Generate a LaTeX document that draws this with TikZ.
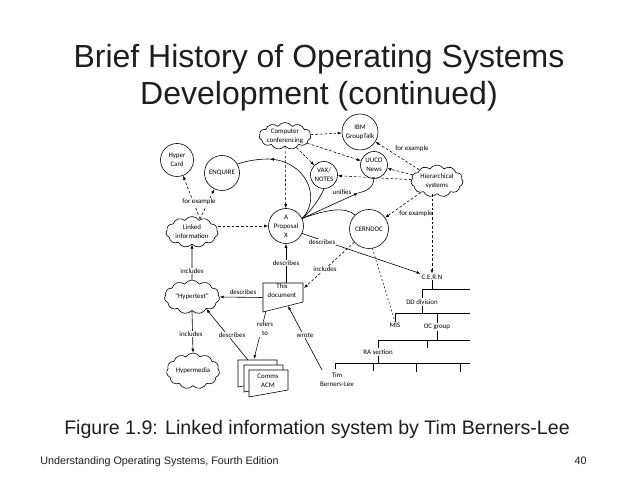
\documentclass[tikz,border=0pt]{standalone}
\usepackage{fontspec}
\setmainfont{Liberation Sans}
\newfontfamily\dfont{Carlito}
\usetikzlibrary{shapes.symbols,arrows.meta,decorations.markings,calc}
\newcommand\dsize{\dfont\fontsize{6.9}{8.8}\selectfont}
\definecolor{titlec}{HTML}{1E1E1E}
\begin{document}
\begin{tikzpicture}[x=1pt,y=-1pt,line width=0.6pt,
  dtxt/.style={font=\dsize, align=center, inner sep=0.8pt},
  onl/.style={dtxt, fill=white},
  circ/.style={circle, draw, line width=0.6pt, inner sep=0pt},
  cld/.style={cloud, cloud puffs=11, cloud puff arc=115, cloud ignores aspect, draw, line width=0.6pt, inner sep=0pt},
  dsh/.style={dash pattern=on 2.6pt off 2pt},
  dotl/.style={dash pattern=on 1.6pt off 2.4pt},
  tip/.style={-{Latex[length=4pt,width=3pt]}},
  midtip/.style={postaction={decorate}, decoration={markings, mark=at position 0.72 with {\arrow{Latex[length=4pt,width=3pt]}}}},
  docshape/.style={draw, fill=white, line width=0.6pt}
]
\fill[white] (0,0) rectangle (638,478);
\useasboundingbox (0,0) rectangle (638,478);

% ---------- title, caption, footer ----------
\node[anchor=base, font=\fontsize{32}{36}\selectfont, text=titlec] (t1) at (319,68) {Brief History of Operating Systems};
\node[anchor=base, font=\fontsize{32}{36}\selectfont, text=titlec] (t2) at (319,105) {Development (continued)};
\node[anchor=base, font=\fontsize{19.6}{22}\selectfont, text=titlec] (cap) at (317,435) {Figure 1.9: Linked information system by Tim Berners-Lee};
\node[anchor=base west, inner sep=0, font=\fontsize{10.8}{12}\selectfont, text=titlec] (foot) at (40,465) {Understanding Operating Systems, Fourth Edition};
\node[anchor=base east, inner sep=0, font=\fontsize{10.8}{12}\selectfont, text=titlec] (pg) at (587,465) {40};

% ---------- circles ----------
\node[circ, minimum size=33] (hyper) at (177,160) {};
\node[dtxt] (hypert) at (hyper) {Hyper\\Card};
\node[circ, minimum size=35] (enq) at (222,173) {};
\node[dtxt] (enqt) at (enq) {ENQUIRE};
\node[circ, minimum size=36] (ibm) at (360,132) {};
\node[dtxt] (ibmt) at (ibm) {IBM\\GroupTalk};
\node[circ, minimum size=27] (uuco) at (374,165) {};
\node[dtxt] (uucot) at (uuco) {UUCO\\News};
\node[circ, minimum size=27] (vax) at (324,175) {};
\node[dtxt] (vaxt) at (vax) {VAX/\\NOTES};
\node[circ, minimum size=35] (pa) at (286,226) {};
\node[dtxt] (pat) at (pa) {A\\Proposal\\X};
\node[circ, minimum size=39] (cdoc) at (369,229) {};
\node[dtxt] (cdoct) at (cdoc) {CERNDOC};

% ---------- clouds ----------
\node[cld, minimum width=52, minimum height=27] (cc) at (285,136) {};
\node[dtxt] (cct) at (cc) {Computer\\conferencing};
\node[cld, minimum width=52, minimum height=32] (hier) at (437,181) {};
\node[dtxt] (hiert) at (hier) {Hierarchical\\systems};
\node[cld, minimum width=52, minimum height=31] (lnk) at (192,232) {};
\node[dtxt] (lnkt) at (lnk) {Linked\\information};
\node[cld, minimum width=55, minimum height=34] (ht) at (192,297) {};
\node[dtxt] (htt) at (ht) {"Hypertext"};
\node[cld, minimum width=53, minimum height=36] (hm) at (193,371) {};
\node[dtxt] (hmt) at (hm) {Hypermedia};

% ---------- documents ----------
\node[minimum width=40, minimum height=29, inner sep=0] (doc) at (283,297.5) {};
\draw[docshape] (263,283) -- (303,283) -- (303,302) -- (263,312) -- cycle;
\node[dtxt] (doct) at (282,291) {This\\document};

\draw[docshape] (238,360) -- (277,360) -- (277,380) -- (238,387) -- cycle;
\draw[docshape] (244,365) -- (283,365) -- (283,385) -- (244,392) -- cycle;
\draw[docshape] (249,370) -- (288,370) -- (288,390) -- (249,397) -- cycle;
\node[dtxt] (acm) at (268,381) {Comms\\ACM};

% ---------- CERN organisation ----------
\node[dtxt] (cern) at (432,277) {C.E.R.N};
\node[dtxt] (dd) at (422,302) {DD division};
\node[dtxt] (mis) at (395,325) {MIS};
\node[dtxt] (oc) at (437,327) {OC group};
\node[dtxt] (ra) at (378,352) {RA section};
\node[dtxt] (tim) at (337,380) {Tim\\Berners-Lee};

\draw (cern.south) -- (432,289);
\draw (422,289) -- (470,289);
\draw (422,289) -- (dd.north);
\draw (dd.south) -- (422,313);
\draw (395,313) -- (470,313);
\draw (395,313) -- (mis.north);
\draw (437,313) -- (oc.north);
\draw (oc.south) -- (437,340);
\draw (378,340) -- (470,340);
\draw (378,340) -- (ra.north);
\draw (427,340) -- (427,348);
\draw (ra.south) -- (378,363);
\draw (335,363) -- (470,363);
\draw (335,363) -- (335,369);
\draw (373,363) -- (373,371);
\draw (416,363) -- (416,372);
\draw (460,363) -- (460,372);

% ---------- dashed connectors ----------
\coordinate (lk) at (200,219);
\draw[dsh,tip] (lk) -- (hyper);
\draw[dsh,tip] (lk) -- (enq);
\node[onl] (fe1) at (199,202) {for example};
\draw[dsh,tip] (lnk.east |- pa) -- (pa);

\draw[dsh,tip] (cc) -- (pa);
\draw[dsh,tip] (cc) -- (ibm);
\draw[dsh,tip] (cc) -- (uuco);
\draw[dsh,tip] (cc) -- (vax);

\draw[dsh,tip] (hier) -- (ibm);
\draw[dsh,tip] (hier) -- (uuco);
\draw[dsh,tip] (hier) -- (vax);
\draw[dsh,tip] (hier) -- (cdoc);
\draw[dsh,tip] (cern.north |- hier.south) -- (cern.north);
\node[dtxt] (fe2) at (412,149) {for example};
\node[dtxt] (fe3) at (416,214) {for example};

\coordinate (docr) at (304,288);
\draw[dsh,tip] (cdoc) -- (docr);
\node[onl] (inc1) at (325,269) {includes};
\draw[dotl] (cdoc.-80) -- (mis.north);

% ---------- proposal fan ----------
\coordinate (pe) at (pa.25);
\draw[midtip] (pe) .. controls (322,198) and (306,160) .. (268,159) .. controls (258,159) and (246,161) .. (enq.30);
\draw (pe) .. controls (312,210) and (320,198) .. (vax.south);
\coordinate (u) at (358,193);
\draw[tip] (pe) -- (u);
\draw (uuco.south) .. controls (374,186) and (368,191) .. (u);
\node[dtxt] (unif) at (342,192) {unifies};
\draw (pe) .. controls (325,210) and (345,206) .. (cdoc.135);

\draw[tip] (pa.-25) -- (cern.north west);
\node[onl] (des1) at (322,242) {describes};

% ---------- solid connectors ----------
\draw[tip] (doc.north -| pa.south) -- (pa.south);
\node[onl] (des2) at (286,263) {describes};
\draw[tip] (doc.west) -- (ht.east);
\node[dtxt] (des3) at (243,292) {describes};
\draw[tip] (ht.north) -- (lnk.south);
\node[onl] (inc2) at (192,271) {includes};
\draw[tip] (ht.south) -- (hm.north);
\node[onl] (inc3) at (191,334) {includes};

\coordinate (acmtl) at (248,360);
\draw[tip] (acmtl) -- (ht.-40);
\node[onl] (des4) at (232,335) {describes};

\coordinate (docbl) at (266,311);
\coordinate (acmt) at (254,359);
\draw[tip] (docbl) -- (acmt);
\node[onl] (ref) at (265,329) {refers\\to};

\coordinate (timl) at (322,370);
\coordinate (docbw) at (288,306);
\draw[tip] (timl) -- (docbw);
\node[onl] (wr) at (305,335) {wrote};
\end{tikzpicture}
\end{document}
